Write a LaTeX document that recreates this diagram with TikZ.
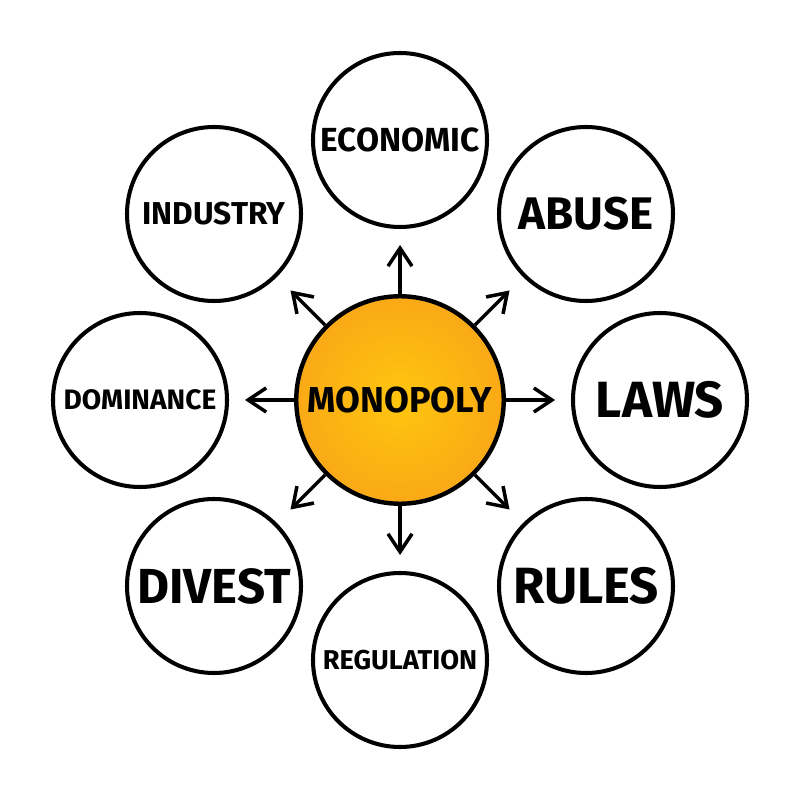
\documentclass[tikz,border=0pt]{standalone}
\usepackage{fontspec}
\setmainfont{Fira Sans}
\usetikzlibrary{positioning,arrows.meta}
\definecolor{hubin}{RGB}{255,198,14}
\definecolor{hubout}{RGB}{244,140,30}
\pgfdeclareradialshading{hubglow}{\pgfpoint{0bp}{0bp}}{color(0bp)=(hubin); color(50bp)=(hubout)}

\begin{document}
\begin{tikzpicture}[on grid,node distance=5.2cm,
    bubble/.style={circle,draw,line width=2.3pt,minimum size=3.48cm,inner sep=0pt,font=\bfseries},
    hub/.style={circle,draw,line width=2.5pt,minimum size=4.15cm,inner sep=0pt,shading=hubglow,font=\bfseries},
    spoke/.style={line width=2pt,-{Straight Barb[length=3.6mm,width=4.8mm]}}]
  \useasboundingbox (-8,-8) rectangle (8,8);
  \node [hub] (mono) {\fontsize{20.5}{22}\selectfont MONOPOLY};
  % ring of topics
  \node [bubble, above=of mono] (eco) {\fontsize{19}{20}\selectfont ECONOMIC};
  \node [bubble, above right=3.72cm and 3.72cm of mono] (abuse) {\fontsize{26}{28}\selectfont ABUSE};
  \node [bubble, right=of mono] (laws) {\fontsize{29}{30}\selectfont LAWS};
  \node [bubble, below right=3.72cm and 3.72cm of mono] (rules) {\fontsize{29}{30}\selectfont RULES};
  \node [bubble, below=of mono] (reg) {\fontsize{15.5}{16}\selectfont REGULATION};
  \node [bubble, below left=3.72cm and 3.72cm of mono] (divest) {\fontsize{28}{30}\selectfont DIVEST};
  \node [bubble, left=of mono] (dom) {\fontsize{16}{17}\selectfont DOMINANCE};
  \node [bubble, above left=3.72cm and 3.72cm of mono] (ind) {\fontsize{18}{19}\selectfont INDUSTRY};
  % arrow tips
  \coordinate [above=3.1cm of mono] (t_eco);
  \coordinate [above right=2.19cm and 2.19cm of mono] (t_abuse);
  \coordinate [right=3.1cm of mono] (t_laws);
  \coordinate [below right=2.19cm and 2.19cm of mono] (t_rules);
  \coordinate [below=3.1cm of mono] (t_reg);
  \coordinate [below left=2.19cm and 2.19cm of mono] (t_divest);
  \coordinate [left=3.1cm of mono] (t_dom);
  \coordinate [above left=2.19cm and 2.19cm of mono] (t_ind);
  \path[spoke]
    (mono) edge (t_eco)
           edge (t_abuse)
           edge (t_laws)
           edge (t_rules)
           edge (t_reg)
           edge (t_divest)
           edge (t_dom)
           edge (t_ind);
\end{tikzpicture}
\end{document}
